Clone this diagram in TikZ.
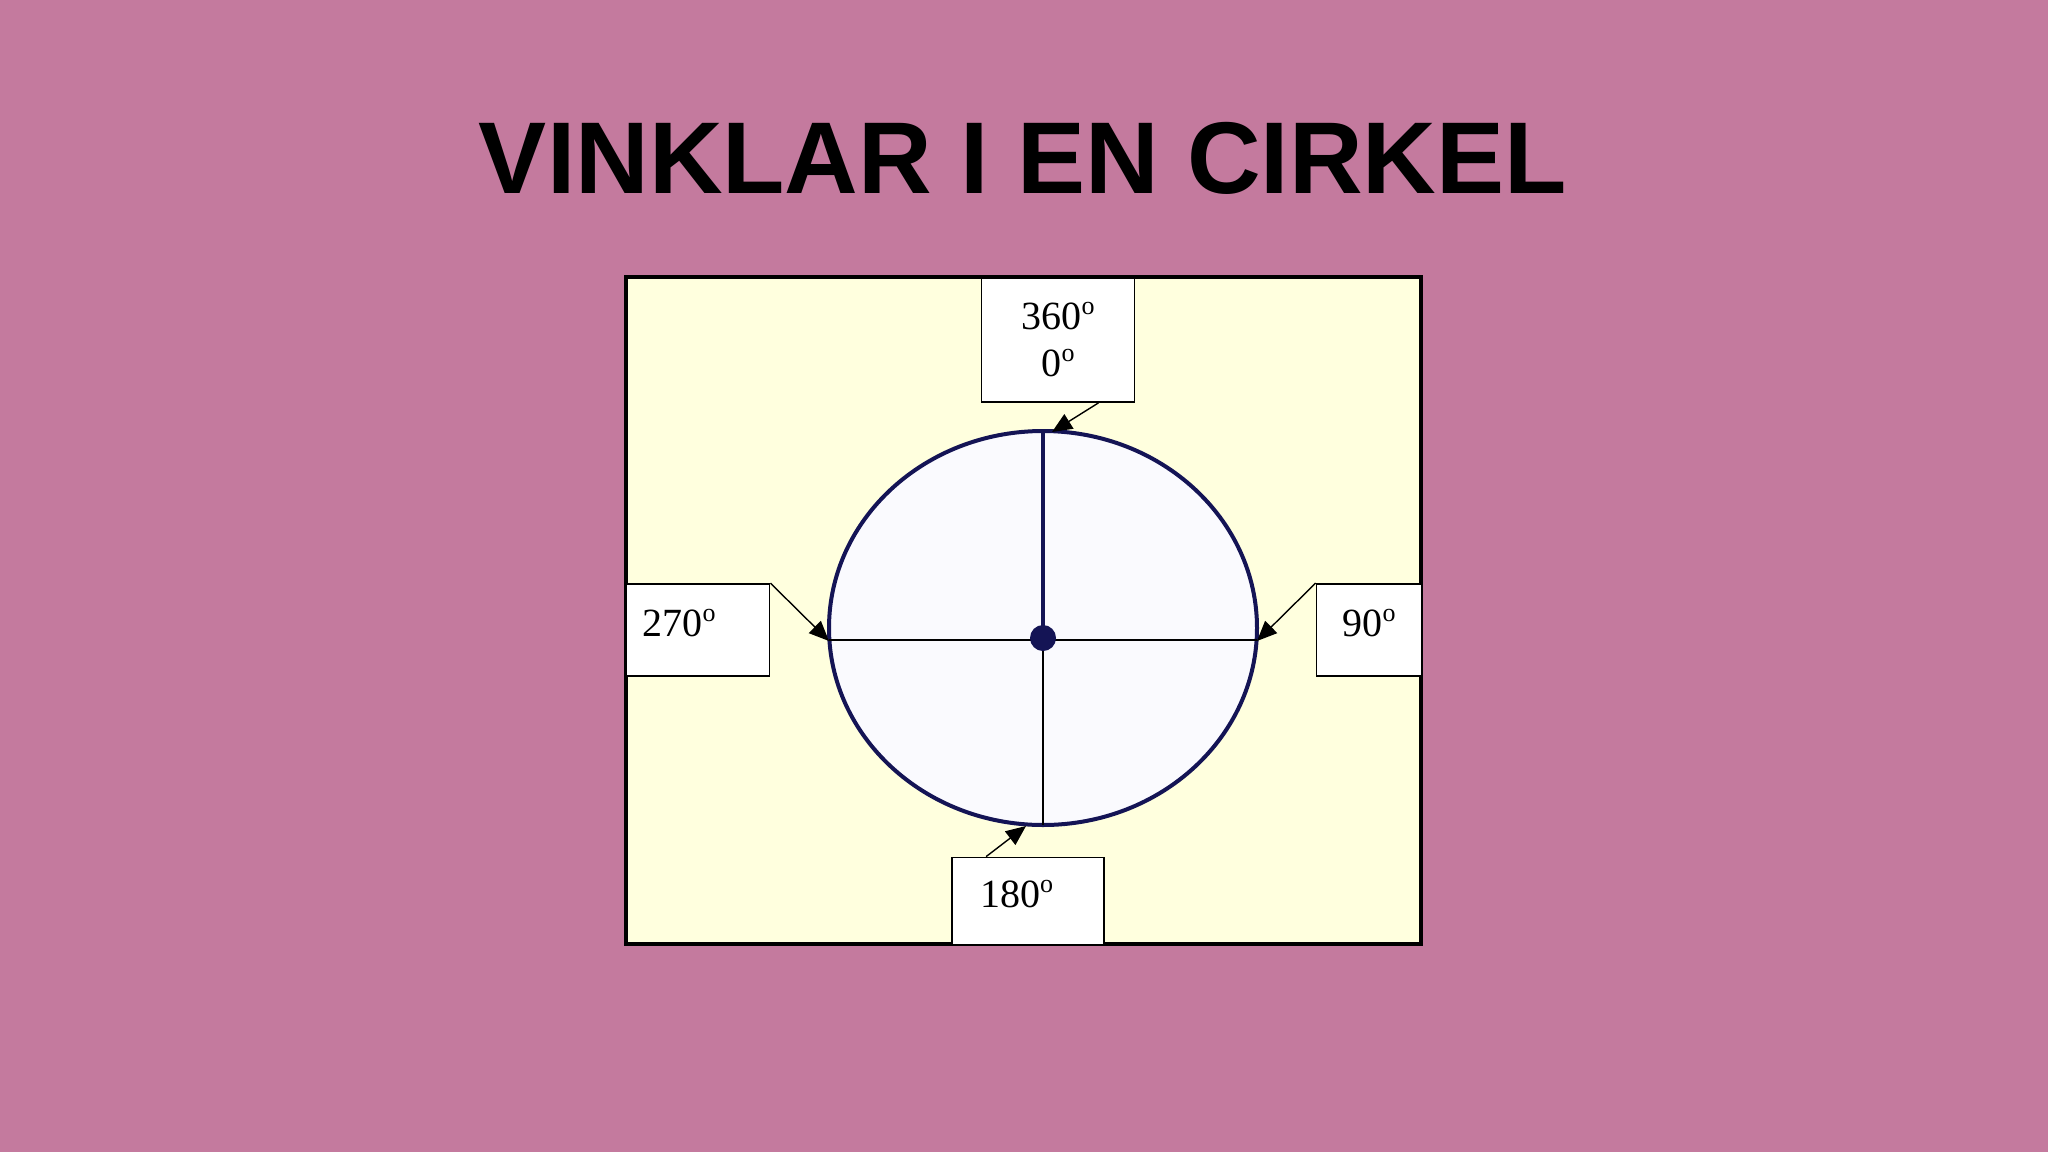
\documentclass[tikz,border=0pt]{standalone}
\usepackage{fontspec}
\setmainfont{Liberation Serif}
\newfontfamily\titlefont{Liberation Sans}
\usetikzlibrary{arrows.meta}
\definecolor{slidebg}{RGB}{196,122,158}
\definecolor{paper}{RGB}{255,255,222}
\definecolor{disc}{RGB}{250,250,254}
\definecolor{navy}{RGB}{20,20,85}
\newcommand{\dg}{\raisebox{15pt}{\fontsize{26}{26}\selectfont o}}

\begin{document}
\begin{tikzpicture}[x=1pt,y=-1pt,
  deg box/.style={draw,line width=1.8pt,fill=white,minimum height=92pt,inner sep=0pt,
    font=\fontsize{40}{47}\selectfont},
  one line/.style={text height=27pt,text depth=14pt},
  pointer/.style={line width=1.4pt,-{Triangle[length=20pt,width=17pt]}},
  thin line/.style={line width=1.8pt}]
\fill[slidebg] (0,0) rectangle (2048,1152);
\useasboundingbox (0,0) rectangle (2048,1152);
\node[font=\titlefont\bfseries\fontsize{102}{110}\selectfont,anchor=base] (title) at (1023,193) {VINKLAR I EN CIRKEL};

% frame and circle
\draw[line width=4pt,fill=paper] (626,277) rectangle (1421,944);
\draw[navy,line width=4pt,fill=disc] (1043,628) ellipse [x radius=214, y radius=197];
\coordinate (ctr) at (1043,638);
\coordinate (w) at (829,640);
\coordinate (e) at (1257,640);
\coordinate (n) at (1043,431);
\coordinate (s) at (1043,825);
\draw[thin line] (w) -- (e);
\draw[thin line] (ctr) -- (s);
\draw[navy,line width=4pt] (ctr) -- (n);
\fill[navy] (ctr) circle (13);

% degree boxes
\node[deg box,minimum width=153pt,minimum height=124pt,align=center] (b360) at (1058,340) {360\dg\\0\dg};
\node[deg box,one line,minimum width=143pt,text width=111pt,align=left] (b270) at (698,630) {270\dg};
\node[deg box,one line,minimum width=105pt] (b90) at (1369,630) {90\dg};
\node[deg box,one line,minimum width=152pt,minimum height=87pt,text width=96pt,align=left] (b180) at (1028,901) {180\dg};

\coordinate (p360) at (1052,432);
\coordinate (p270) at (829,641);
\coordinate (p90) at (1257,641);
\coordinate (p180) at (1026,826);

\path[pointer]
([xshift=-37pt]b360.south east) edge (p360)
(b270.north east) edge (p270)
(b90.north west) edge (p90)
([xshift=35pt]b180.north west) edge (p180)
;
\end{tikzpicture}
\end{document}
